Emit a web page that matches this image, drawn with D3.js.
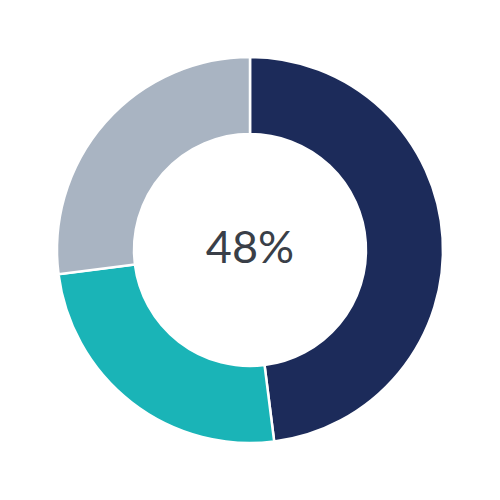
<!DOCTYPE html>
<html>
<head>
<meta charset="utf-8">
<script src="https://cdn.jsdelivr.net/npm/d3@7"></script>
<style>
  body { margin: 0; background: #fff; }
</style>
</head>
<body>
<div id="chart"></div>
<script>
// share of each segment, clockwise from the top
var segments = ["Primary", "Secondary", "Other"];
var shares = [48, 25, 27];
var colors = ["#1c2b5a", "#1ab4b7", "#a9b4c2"];
var centerLabel = "48%";

var size = 500,
    outerR = 193,
    innerR = 116;

var svg = d3.select("#chart").append("svg")
    .attr("width", size)
    .attr("height", size)
    .append("g")
    .attr("transform", "translate(" + size / 2 + "," + size / 2 + ")");

var pie = d3.pie()
    .sort(null)
    .value(function(d) { return d; });

var arc = d3.arc()
    .innerRadius(innerR)
    .outerRadius(outerR);

var color = d3.scaleOrdinal()
    .domain(segments)
    .range(colors);

svg.selectAll("path")
    .data(pie(shares))
    .enter()
    .append("path")
    .attr("d", arc)
    .attr("fill", function(d, i) { return color(segments[i]); })
    .attr("stroke", "#fff")
    .attr("stroke-width", 2.5);

svg.append("text")
    .attr("text-anchor", "middle")
    .attr("y", -3)
    .attr("dy", "0.35em")
    .style("font-family", "Lato, 'Open Sans', sans-serif")
    .style("font-weight", 400)
    .style("font-size", "45px")
    .style("fill", "#3a3f48")
    .text(centerLabel);
</script>
</body>
</html>
